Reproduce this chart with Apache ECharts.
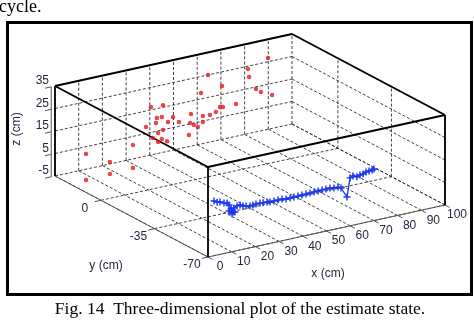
<!DOCTYPE html>
<html><head><meta charset="utf-8">
<script src="https://cdn.jsdelivr.net/npm/echarts@6/dist/echarts.min.js"></script>
<style>html,body{margin:0;padding:0;background:#fff}#c{width:474px;height:324px}</style>
</head><body><div id="c"></div>
<script>
// ---- axis limits & ticks ----
const xLim = [0, 100], yLim = [-70, 30], zLim = [-5, 35];
const xTicks = [0, 10, 20, 30, 40, 50, 60, 70, 80, 90, 100];
const yTicks = [-70, -35, 0];
const zTicks = [-5, 5, 15, 25, 35];

// ---- landmarks (red dots), cm ----
const landmarkX = [54.9, 80.2, 71.7, 72.2, 51.9, 60.8, 75.1, 77.2, 81.9, 66.7, 30.8, 35.9, 59.9, 61.2, 47.7, 33.3, 35.4, 40.1, 32.9, 52.7, 55.7, 58.2, 38.0, 42.6, 47.3, 48.9, 50.6, 52.7, 28.7, 35.9, 33.8, 46.8, 31.6, 35.4, 37.6, 33.8, 23.2, 3.4, 13.5, 23.2, 13.5, 3.4];
const landmarkY = [15, 15, 15, 15, 15, 15, 15, 15, 15, 15, 15, 15, 15, 15, 15, 15, 15, 15, 15, 15, 15, 15, 15, 15, 15, 15, 15, 15, 15, 15, 15, 15, 15, 15, 15, 15, 15, 15, 15, 15, 15, 15];
const landmarkZ = [32.6, 34.3, 31.4, 27.7, 25.3, 26.4, 21.7, 19.9, 17.5, 17.0, 24.0, 23.6, 17.2, 16.9, 16.9, 18.5, 18.4, 17.3, 16.4, 14.9, 14.6, 15.4, 15.6, 14.5, 13.0, 11.8, 10.5, 12.2, 15.6, 12.5, 11.7, 7.8, 10.0, 8.7, 7.2, 7.7, 8.8, 9.4, 3.5, -1.4, -1.8, -2.2];

// ---- estimated state trajectory (blue), cm ----
const estX = [9.0, 10.3, 11.5, 13.2, 14.5, 15.3, 16.2, 17.0, 15.3, 16.6, 17.8, 17.4, 18.7, 20.0, 21.2, 22.5, 24.2, 25.4, 26.7, 28.4, 29.7, 31.4, 32.6, 34.3, 36.0, 37.7, 39.4, 41.1, 42.7, 44.4, 46.1, 47.8, 49.5, 51.2, 52.9, 54.6, 56.2, 57.9, 59.6, 61.3, 62.6, 65.1, 66.4, 67.6, 69.3, 70.6, 71.9, 73.1, 74.4, 75.7, 76.5];
const estY = [-60, -60, -60, -60, -60, -60, -60, -60, -60, -60, -60, -60, -60, -60, -60, -60, -60, -60, -60, -60, -60, -60, -60, -60, -60, -60, -60, -60, -60, -60, -60, -60, -60, -60, -60, -60, -60, -60, -60, -60, -60, -60, -60, -60, -60, -60, -60, -60, -60, -60, -60];
const estZ = [14.2, 13.4, 13.2, 12.3, 12.1, 11.0, 9.0, 7.5, 8.3, 6.7, 7.3, 9.2, 9.8, 9.9, 9.2, 8.9, 8.5, 8.6, 8.8, 8.8, 8.6, 8.6, 8.3, 8.4, 8.4, 8.5, 8.1, 8.1, 8.2, 8.2, 8.3, 8.3, 8.4, 8.5, 8.5, 8.6, 8.6, 8.7, 8.3, 8.3, 7.6, 3.0, 11.2, 11.8, 11.0, 11.5, 11.7, 12.3, 12.4, 12.6, 12.8];

// ---- view (orthographic projection of the unit box onto the page plane) ----
const view = { ux: 237, uy: -153, vx: 52, vy: 81, vz: 90 };
function proj(x, y, z) {
  const X = (x - xLim[0]) / (xLim[1] - xLim[0]);
  const Y = (y - yLim[0]) / (yLim[1] - yLim[0]);
  const Z = (z - zLim[0]) / (zLim[1] - zLim[0]);
  return [view.ux * X + view.uy * Y, view.vx * X + view.vy * Y + view.vz * Z];
}
function seg(a, b) { const p = proj(a[0], a[1], a[2]), q = proj(b[0], b[1], b[2]); return [p[0], p[1], q[0], q[1]]; }

// dashed grid on the three back planes
const gridSegs = [];
xTicks.forEach(x => { gridSegs.push(seg([x, yLim[0], zLim[0]], [x, yLim[1], zLim[0]])); gridSegs.push(seg([x, yLim[1], zLim[0]], [x, yLim[1], zLim[1]])); });
yTicks.forEach(y => { gridSegs.push(seg([xLim[0], y, zLim[0]], [xLim[1], y, zLim[0]])); gridSegs.push(seg([xLim[1], y, zLim[0]], [xLim[1], y, zLim[1]])); });
zTicks.forEach(z => { gridSegs.push(seg([xLim[0], yLim[1], z], [xLim[1], yLim[1], z])); gridSegs.push(seg([xLim[1], yLim[0], z], [xLim[1], yLim[1], z])); });

const X0 = xLim[0], X1 = xLim[1], Y0 = yLim[0], Y1 = yLim[1], Z0 = zLim[0], Z1 = zLim[1];
const edgeSegs = [
  seg([X0, Y0, Z1], [X1, Y0, Z1]), seg([X0, Y0, Z1], [X0, Y1, Z1]), seg([X0, Y1, Z1], [X1, Y1, Z1]), seg([X1, Y1, Z1], [X1, Y0, Z1]),
  seg([X0, Y0, Z0], [X0, Y0, Z1]), seg([X1, Y0, Z0], [X1, Y0, Z1]), seg([X0, Y1, Z0], [X0, Y1, Z1])
];
const axisSegs = [
  seg([X0, Y0, Z0], [X1, Y0, Z0]), seg([X0, Y0, Z0], [X0, Y1, Z0]), seg([X0 - 1.6, Y1, Z0], [X0 - 1.6, Y1, Z1])
];
xTicks.forEach(x => axisSegs.push(seg([x, Y0, Z0], [x, Y0 - 3, Z0])));
yTicks.forEach(y => axisSegs.push(seg([X0, y, Z0], [X0 - 2.6, y, Z0])));
zTicks.forEach(z => axisSegs.push(seg([X0 - 1.6, Y1, z], [X0 - 4.2, Y1, z])));

// tick labels
const tickLabels = [];
xTicks.forEach(x => { const p = proj(x, Y0, Z0); tickLabels.push([p[0], p[1], String(x), 12, 10, 'center']); });
yTicks.forEach(y => { const p = proj(X0, y, Z0); tickLabels.push([p[0], p[1], String(y), -16, 8, 'center']); });
zTicks.forEach(z => { const p = proj(X0, Y1, z); tickLabels.push([p[0], p[1], String(z), -6, -5, 'right']); });

const landmarkPts = landmarkX.map((x, i) => proj(x, landmarkY[i], landmarkZ[i]));
const estPts = estX.map((x, i) => proj(x, estY[i], estZ[i]));

function segSeries(data, stroke, width, dash) {
  return {
    type: 'custom', data: data, silent: true, encode: { x: [0, 2], y: [1, 3] },
    renderItem: (params, api) => {
      const p = api.coord([api.value(0), api.value(1)]), q = api.coord([api.value(2), api.value(3)]);
      return { type: 'line', shape: { x1: p[0], y1: p[1], x2: q[0], y2: q[1] }, style: { stroke: stroke, lineWidth: width, lineDash: dash || null } };
    }
  };
}
const labelFont = '"Liberation Sans", Arial, sans-serif';
const txtColor = '#262640';
const serif = '"Liberation Serif", "Times New Roman", serif';

const chart = echarts.init(document.getElementById('c'), null, { renderer: 'canvas' });
chart.setOption({
  animation: false,
  backgroundColor: '#fff',
  grid: { left: 0, right: 0, top: 0, bottom: 0 },
  xAxis: { type: 'value', min: -208, max: 266, show: false },
  yAxis: { type: 'value', min: -67, max: 257, show: false },
  series: [
    segSeries(gridSegs, '#2e2e2e', 0.9, [3, 2]),
    segSeries(axisSegs, '#555', 1),
    segSeries(edgeSegs, '#000', 1.8),
    {
      type: 'custom', silent: true, data: tickLabels.map(t => [t[0], t[1]]),
      renderItem: (params, api) => {
        const t = tickLabels[params.dataIndex];
        const p = api.coord([api.value(0), api.value(1)]);
        return { type: 'text', x: p[0] + t[3], y: p[1] + t[4], style: { text: t[2], fill: txtColor, font: '12px ' + labelFont, align: t[5], verticalAlign: 'middle' } };
      }
    },
    {
      type: 'scatter', data: landmarkPts, symbol: 'circle', symbolSize: 4.5,
      itemStyle: { color: '#e8141c' }, silent: true
    },
    {
      type: 'line', data: estPts, symbol: 'path://M-0.2,-1H0.2V-0.2H1V0.2H0.2V1H-0.2V0.2H-1V-0.2H-0.2Z', symbolSize: 7,
      showSymbol: true, lineStyle: { color: '#1a36f0', width: 1.3 }, itemStyle: { color: '#1a36f0' }, silent: true
    }
  ],
  graphic: [
    { type: 'rect', shape: { x: 7.5, y: 22.5, width: 464, height: 272 }, style: { fill: null, stroke: '#000', lineWidth: 3 } },
    { type: 'text', x: -1, y: 7, style: { text: 'cycle.', font: '18px ' + serif, fill: '#000', verticalAlign: 'middle' } },
    { type: 'text', x: 240, y: 309, style: { text: 'Fig. 14  Three-dimensional plot of the estimate state.', font: '17.5px ' + serif, fill: '#000', align: 'center', verticalAlign: 'middle' } },
    { type: 'text', x: 328, y: 274, style: { text: 'x (cm)', font: '12px ' + labelFont, fill: txtColor, align: 'center', verticalAlign: 'middle' } },
    { type: 'text', x: 106, y: 266, style: { text: 'y (cm)', font: '12px ' + labelFont, fill: txtColor, align: 'center', verticalAlign: 'middle' } },
    { type: 'text', x: 17, y: 129, rotation: Math.PI / 2, style: { text: 'z (cm)', font: '12px ' + labelFont, fill: txtColor, align: 'center', verticalAlign: 'middle' } }
  ]
});
</script></body></html>
